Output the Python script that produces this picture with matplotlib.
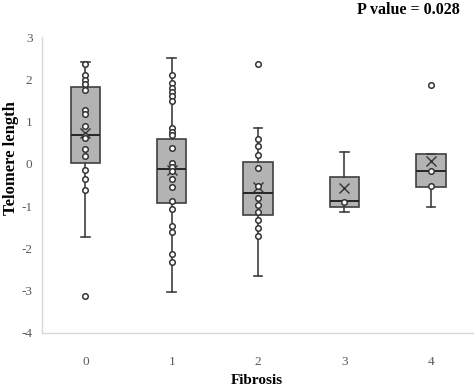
import matplotlib
matplotlib.use("Agg")
import matplotlib.pyplot as plt

plt.rcParams["font.family"] = "Liberation Serif"
plt.rcParams["axes.unicode_minus"] = False

groups = [0, 1, 2, 3, 4]
q1 = [0.02, -0.93, -1.20, -1.02, -0.54]
med = [0.69, -0.13, -0.68, -0.89, -0.18]
q3 = [1.83, 0.58, 0.05, -0.31, 0.24]
whislo = [-1.72, -3.03, -2.66, -1.14, -1.03]
whishi = [2.41, 2.51, 0.84, 0.28, 0.24]
means = [0.72, -0.15, -0.54, -0.58, 0.07]

inner_points = [
    [2.37, 2.11, 1.98, 1.90, 1.74, 1.28, 1.19, 0.89, 0.66, 0.62, 0.36, 0.18,
     -0.15, -0.36, -0.63],
    [2.11, 1.91, 1.80, 1.70, 1.60, 1.49, 0.86, 0.76, 0.68, 0.37, 0.02, -0.07,
     -0.18, -0.36, -0.55, -0.89, -1.06, -1.46, -1.61, -2.14, -2.32],
    [0.58, 0.42, 0.21, -0.09, -0.52, -0.81, -0.98, -1.15, -1.32, -1.51, -1.71],
    [-0.90],
    [-0.18, -0.52],
]
outliers = [[-3.12], [], [2.36], [], [1.87]]

box_fill = "#b3b3b3"
edge = "#404040"

fig = plt.figure(figsize=(4.74, 3.87), dpi=100)
ax = fig.add_axes([0.089, 0.14, 0.911, 0.764])

stats = []
for i in range(len(groups)):
    stats.append({"med": med[i], "q1": q1[i], "q3": q3[i],
                  "whislo": whislo[i], "whishi": whishi[i],
                  "mean": means[i], "fliers": []})

ax.bxp(stats, positions=groups, widths=0.34, capwidths=0.1,
       patch_artist=True, showmeans=True, showfliers=False,
       boxprops=dict(facecolor=box_fill, edgecolor=edge, linewidth=1.2),
       medianprops=dict(color="#262626", linewidth=1.4),
       whiskerprops=dict(color=edge, linewidth=1.2),
       capprops=dict(color=edge, linewidth=1.2),
       meanprops=dict(marker="x", markersize=7, markeredgecolor="#333333",
                      markeredgewidth=1.0))

for i, g in enumerate(groups):
    pts = inner_points[i] + outliers[i]
    ax.scatter([g] * len(pts), pts, s=16, facecolors="white",
               edgecolors="#333333", linewidths=1.1, zorder=4)

ax.set_xlim(-0.5, 4.5)
ax.set_ylim(-4, 3)
ax.set_yticks(range(-4, 4))
ax.set_xticks(groups)

for s in ["top", "right"]:
    ax.spines[s].set_visible(False)
for s in ["left", "bottom"]:
    ax.spines[s].set_color("#d9d9d9")
    ax.spines[s].set_linewidth(1.0)

ax.tick_params(axis="both", length=0, colors="#595959", labelsize=9.5)
ax.tick_params(axis="x", pad=17)
ax.tick_params(axis="y", pad=7)

fig.text(257 / 474, 1 - 380 / 387, "Fibrosis", fontsize=11,
         fontweight="bold", ha="center", va="center")
fig.text(11 / 474, 1 - 158 / 387, "Telomere length", fontsize=12,
         fontweight="bold", ha="center", va="center", rotation=90)
fig.text(408 / 474, 0.975, "P value = 0.028", fontsize=11.5,
         fontweight="bold", ha="center", va="center")

fig.savefig("out.png", dpi=100)
